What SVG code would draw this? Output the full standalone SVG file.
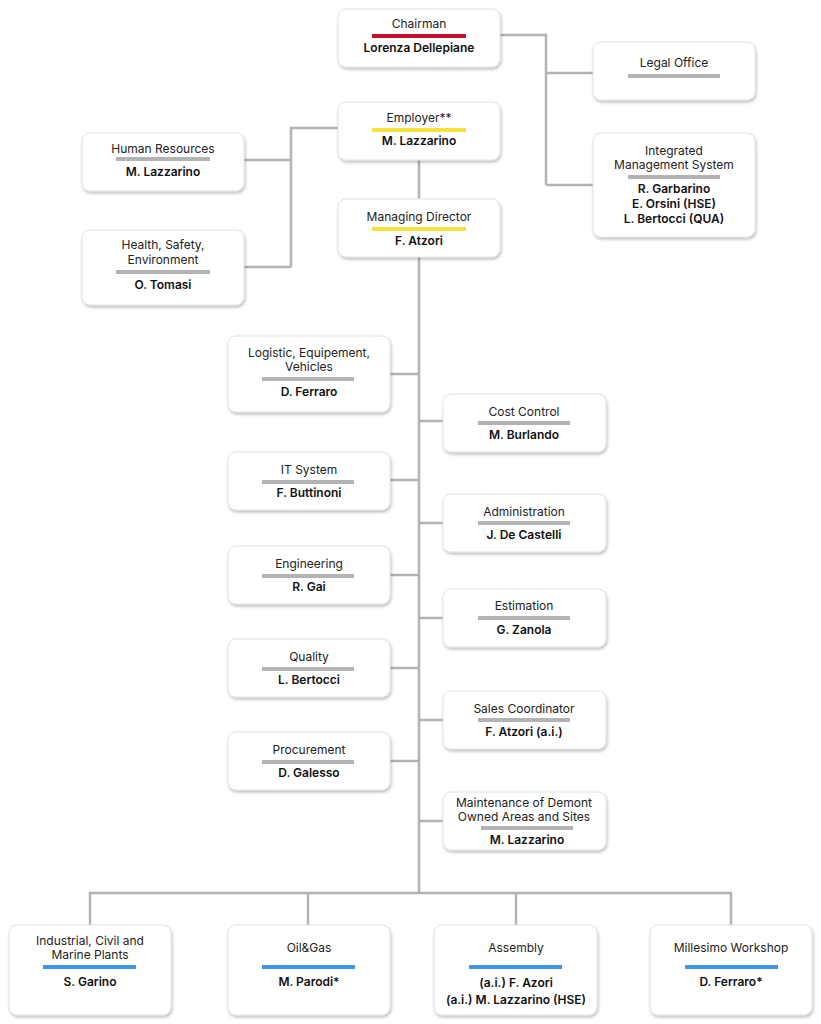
<svg xmlns="http://www.w3.org/2000/svg" width="821" height="1024" viewBox="0 0 821 1024">
<defs>
<filter id="sh" x="-10%" y="-10%" width="125%" height="135%"><feDropShadow dx="1" dy="2" stdDeviation="1.5" flood-color="#000" flood-opacity="0.25"/></filter>
<style>
.b{fill:#fff;stroke:#e2e2e2;stroke-width:1;filter:url(#sh)}
.t{font-family:Inter,"Open Sans",sans-serif;font-size:12px;fill:#222;text-anchor:middle}
.n{font-family:Inter,"Open Sans",sans-serif;font-size:12px;font-weight:600;fill:#111;text-anchor:middle}
.g{fill:#b3b3b3}.r{fill:#c8102e}.y{fill:#f4e13c}.u{fill:#3d97e8}
.c{stroke:#b3b3b3;stroke-width:2.5;fill:none}
</style>
</defs>
<g id="connectors" class="c">
<path d="M500 35H546V185M546 73H593M546 185H593"/>
<path d="M338 128H291V267M291 160H244M291 267H244"/>
<path d="M419 160V199M419 257V893"/>
<path d="M390 374H419M390 480H419M390 575H419M390 668H419M390 761H419"/>
<path d="M419 421H443M419 523H443M419 618H443M419 720H443M419 821H443"/>
<path d="M90 925V893H731V925M308 893V925M516 893V925"/>
</g>
<g id="chairman"><rect class="b" x="338" y="9" width="162" height="58" rx="8"/><text class="t" x="419" y="28">Chairman</text><rect class="r" x="372" y="34" width="94" height="4"/><text class="n" x="419" y="52">Lorenza Dellepiane</text></g>
<g id="legal"><rect class="b" x="593" y="42" width="162" height="58" rx="8"/><text class="t" x="674" y="67">Legal Office</text><rect class="g" x="628" y="74" width="92" height="4"/></g>
<g id="ims"><rect class="b" x="593" y="133" width="162" height="104" rx="8"/><text class="t" x="674" y="155">Integrated</text><text class="t" x="674" y="169">Management System</text><rect class="g" x="628" y="175" width="92" height="4"/><text class="n" x="674" y="193">R. Garbarino</text><text class="n" x="674" y="208">E. Orsini (HSE)</text><text class="n" x="674" y="223">L. Bertocci (QUA)</text></g>
<g id="employer"><rect class="b" x="338" y="102" width="162" height="58" rx="8"/><text class="t" x="419" y="122">Employer**</text><rect class="y" x="372" y="128" width="94" height="4"/><text class="n" x="419" y="145">M. Lazzarino</text></g>
<g id="md"><rect class="b" x="338" y="199" width="162" height="58" rx="8"/><text class="t" x="419" y="221">Managing Director</text><rect class="y" x="372" y="227" width="94" height="4"/><text class="n" x="419" y="245">F. Atzori</text></g>
<g id="hr"><rect class="b" x="82" y="133" width="162" height="58" rx="8"/><text class="t" x="163" y="153">Human Resources</text><rect class="g" x="116" y="157" width="94" height="4"/><text class="n" x="163" y="176">M. Lazzarino</text></g>
<g id="hse"><rect class="b" x="82" y="230" width="162" height="75" rx="8"/><text class="t" x="163" y="249">Health, Safety,</text><text class="t" x="163" y="264">Environment</text><rect class="g" x="116" y="270" width="94" height="4"/><text class="n" x="163" y="289">O. Tomasi</text></g>
<g id="logistic"><rect class="b" x="228" y="336" width="162" height="76" rx="8"/><text class="t" x="309" y="357">Logistic, Equipement,</text><text class="t" x="309" y="371">Vehicles</text><rect class="g" x="262" y="377" width="92" height="4"/><text class="n" x="309" y="396">D. Ferraro</text></g>
<g id="it"><rect class="b" x="228" y="452" width="162" height="58" rx="8"/><text class="t" x="309" y="474">IT System</text><rect class="g" x="262" y="480" width="92" height="4"/><text class="n" x="309" y="497">F. Buttinoni</text></g>
<g id="eng"><rect class="b" x="228" y="546" width="162" height="58" rx="8"/><text class="t" x="309" y="568">Engineering</text><rect class="g" x="262" y="574" width="92" height="4"/><text class="n" x="309" y="591">R. Gai</text></g>
<g id="quality"><rect class="b" x="228" y="639" width="162" height="58" rx="8"/><text class="t" x="309" y="661">Quality</text><rect class="g" x="262" y="667" width="92" height="4"/><text class="n" x="309" y="684">L. Bertocci</text></g>
<g id="proc"><rect class="b" x="228" y="732" width="162" height="58" rx="8"/><text class="t" x="309" y="754">Procurement</text><rect class="g" x="262" y="760" width="92" height="4"/><text class="n" x="309" y="777">D. Galesso</text></g>
<g id="cost"><rect class="b" x="443" y="394" width="163" height="58" rx="8"/><text class="t" x="524" y="416">Cost Control</text><rect class="g" x="478" y="421" width="92" height="4"/><text class="n" x="524" y="439">M. Burlando</text></g>
<g id="admin"><rect class="b" x="443" y="494" width="163" height="58" rx="8"/><text class="t" x="524" y="516">Administration</text><rect class="g" x="478" y="521" width="92" height="4"/><text class="n" x="524" y="539">J. De Castelli</text></g>
<g id="est"><rect class="b" x="443" y="589" width="163" height="58" rx="8"/><text class="t" x="524" y="610">Estimation</text><rect class="g" x="478" y="616" width="92" height="4"/><text class="n" x="524" y="634">G. Zanola</text></g>
<g id="sales"><rect class="b" x="443" y="691" width="163" height="58" rx="8"/><text class="t" x="524" y="713">Sales Coordinator</text><rect class="g" x="478" y="718" width="92" height="4"/><text class="n" x="524" y="736">F. Atzori (a.i.)</text></g>
<g id="maint"><rect class="b" x="443" y="792" width="163" height="58" rx="8"/><text class="t" x="524" y="807">Maintenance of Demont</text><text class="t" x="524" y="821">Owned Areas and Sites</text><rect class="g" x="481" y="826" width="92" height="4"/><text class="n" x="527" y="844">M. Lazzarino</text></g>
<g id="industrial"><rect class="b" x="9" y="925" width="162" height="90" rx="8"/><text class="t" x="90" y="945">Industrial, Civil and</text><text class="t" x="90" y="959">Marine Plants</text><rect class="u" x="43" y="965" width="93" height="4"/><text class="n" x="90" y="986">S. Garino</text></g>
<g id="oil"><rect class="b" x="228" y="925" width="162" height="90" rx="8"/><text class="t" x="309" y="952">Oil&amp;Gas</text><rect class="u" x="262" y="965" width="93" height="4"/><text class="n" x="309" y="986">M. Parodi*</text></g>
<g id="assembly"><rect class="b" x="434" y="925" width="163" height="90" rx="8"/><text class="t" x="516" y="952">Assembly</text><rect class="u" x="469" y="965" width="93" height="4"/><text class="n" x="516" y="987">(a.i.) F. Azori</text><text class="n" x="516" y="1004">(a.i.) M. Lazzarino (HSE)</text></g>
<g id="millesimo"><rect class="b" x="650" y="925" width="162" height="90" rx="8"/><text class="t" x="731" y="952">Millesimo Workshop</text><rect class="u" x="685" y="965" width="93" height="4"/><text class="n" x="731" y="986">D. Ferraro*</text></g>
</svg>
